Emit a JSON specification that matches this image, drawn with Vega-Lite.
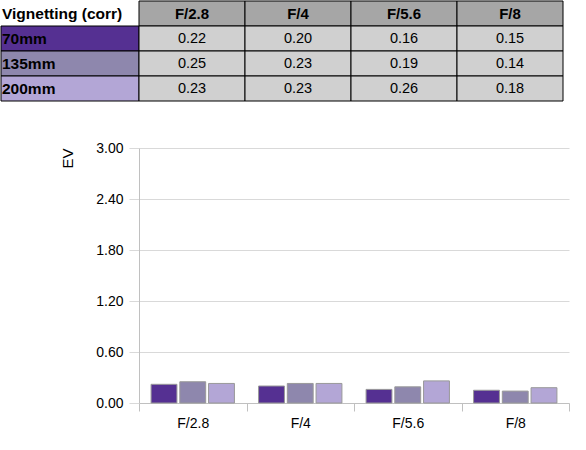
{
  "$schema": "https://vega.github.io/schema/vega-lite/v6.json",
  "padding": 0,
  "config": {
    "view": {"stroke": null},
    "font": "Liberation Sans",
    "text": {"font": "Liberation Sans", "color": "#000000", "fontSize": 14, "baseline": "middle"}
  },
  "datasets": {
    "rows": [
      {"row": "Vignetting (corr)"},
      {"row": "70mm"},
      {"row": "135mm"},
      {"row": "200mm"}
    ],
    "vig": [
      {"lens": "70mm", "f": "F/2.8", "ev": 0.22},
      {"lens": "70mm", "f": "F/4", "ev": 0.20},
      {"lens": "70mm", "f": "F/5.6", "ev": 0.16},
      {"lens": "70mm", "f": "F/8", "ev": 0.15},
      {"lens": "135mm", "f": "F/2.8", "ev": 0.25},
      {"lens": "135mm", "f": "F/4", "ev": 0.23},
      {"lens": "135mm", "f": "F/5.6", "ev": 0.19},
      {"lens": "135mm", "f": "F/8", "ev": 0.14},
      {"lens": "200mm", "f": "F/2.8", "ev": 0.23},
      {"lens": "200mm", "f": "F/4", "ev": 0.23},
      {"lens": "200mm", "f": "F/5.6", "ev": 0.26},
      {"lens": "200mm", "f": "F/8", "ev": 0.18}
    ]
  },
  "columns": 2,
  "spacing": {"row": 47, "column": 0},
  "align": "each",
  "bounds": "flush",
  "concat": [
    {
      "width": 138,
      "height": 100,
      "data": {"name": "rows"},
      "encoding": {
        "y": {
          "field": "row",
          "type": "nominal",
          "sort": null,
          "scale": {"domain": ["Vignetting (corr)", "70mm", "135mm", "200mm"], "paddingInner": 0, "paddingOuter": 0},
          "axis": null
        }
      },
      "layer": [
        {
          "transform": [{"filter": "datum.row !== 'Vignetting (corr)'"}],
          "mark": {"type": "rect", "stroke": "#000000", "strokeWidth": 1},
          "encoding": {
            "fill": {
              "field": "row",
              "type": "nominal",
              "scale": {"domain": ["70mm", "135mm", "200mm"], "range": ["#553092", "#8e87ad", "#b3a6d6"]},
              "legend": null
            }
          }
        },
        {
          "mark": {"type": "text", "align": "left", "dx": 1, "fontWeight": "bold", "fontSize": 15.5},
          "encoding": {
            "x": {"value": 0},
            "text": {"field": "row"}
          }
        }
      ]
    },
    {
      "width": 424,
      "height": 100,
      "data": {"name": "vig"},
      "encoding": {
        "x": {
          "field": "f",
          "type": "nominal",
          "sort": ["F/2.8", "F/4", "F/5.6", "F/8"],
          "scale": {"paddingInner": 0, "paddingOuter": 0},
          "axis": null
        }
      },
      "layer": [
        {
          "transform": [{"filter": "datum.lens === '70mm'"}],
          "mark": {"type": "rect", "fill": "#a6a6a6", "stroke": "#000000", "strokeWidth": 1},
          "encoding": {
            "y": {
              "datum": "Vignetting (corr)",
              "type": "nominal",
              "scale": {"domain": ["Vignetting (corr)", "70mm", "135mm", "200mm"], "paddingInner": 0, "paddingOuter": 0},
              "axis": null
            }
          }
        },
        {
          "transform": [{"filter": "datum.lens === '70mm'"}],
          "mark": {"type": "text", "fontWeight": "bold", "fontSize": 15},
          "encoding": {
            "y": {"datum": "Vignetting (corr)", "type": "nominal"},
            "text": {"field": "f"}
          }
        },
        {
          "mark": {"type": "rect", "fill": "#d0d0d0", "stroke": "#000000", "strokeWidth": 1},
          "encoding": {
            "y": {"field": "lens", "type": "nominal"}
          }
        },
        {
          "mark": {"type": "text", "fontSize": 14.5},
          "encoding": {
            "y": {"field": "lens", "type": "nominal"},
            "text": {"field": "ev", "type": "quantitative", "format": ".2f"}
          }
        }
      ]
    },
    {
      "width": 138,
      "height": 255,
      "data": {"values": []},
      "mark": "text",
      "encoding": {}
    },
    {
      "width": 430,
      "height": 255,
      "data": {"name": "vig"},
      "mark": {"type": "bar", "stroke": "#999999", "strokeWidth": 1},
      "encoding": {
        "x": {
          "field": "f",
          "type": "nominal",
          "sort": ["F/2.8", "F/4", "F/5.6", "F/8"],
          "scale": {"paddingInner": 0, "paddingOuter": 0},
          "axis": {
            "title": null,
            "labelAngle": 0,
            "tickBand": "extent",
            "tickSize": 8,
            "tickColor": "#c0c0c0",
            "domainColor": "#c0c0c0",
            "labelFontSize": 14,
            "labelColor": "#000000",
            "labelPadding": 5
          }
        },
        "xOffset": {
          "field": "lens",
          "sort": ["70mm", "135mm", "200mm"],
          "scale": {"paddingInner": 0.1, "paddingOuter": 0.42}
        },
        "y": {
          "field": "ev",
          "type": "quantitative",
          "scale": {"domain": [0, 3]},
          "axis": {
            "title": "EV",
            "values": [0, 0.6, 1.2, 1.8, 2.4, 3],
            "format": ".2f",
            "tickSize": 10,
            "tickColor": "#d9d9d9",
            "gridColor": "#d9d9d9",
            "domainColor": "#c0c0c0",
            "labelFontSize": 14,
            "labelColor": "#000000",
            "labelPadding": 6,
            "titleFontSize": 15,
            "titleFontWeight": "normal",
            "titleColor": "#000000",
            "titleAnchor": "end",
            "titlePadding": 20
          }
        },
        "color": {
          "field": "lens",
          "type": "nominal",
          "scale": {"domain": ["70mm", "135mm", "200mm"], "range": ["#553092", "#8e87ad", "#b3a6d6"]},
          "legend": null
        }
      }
    }
  ]
}
